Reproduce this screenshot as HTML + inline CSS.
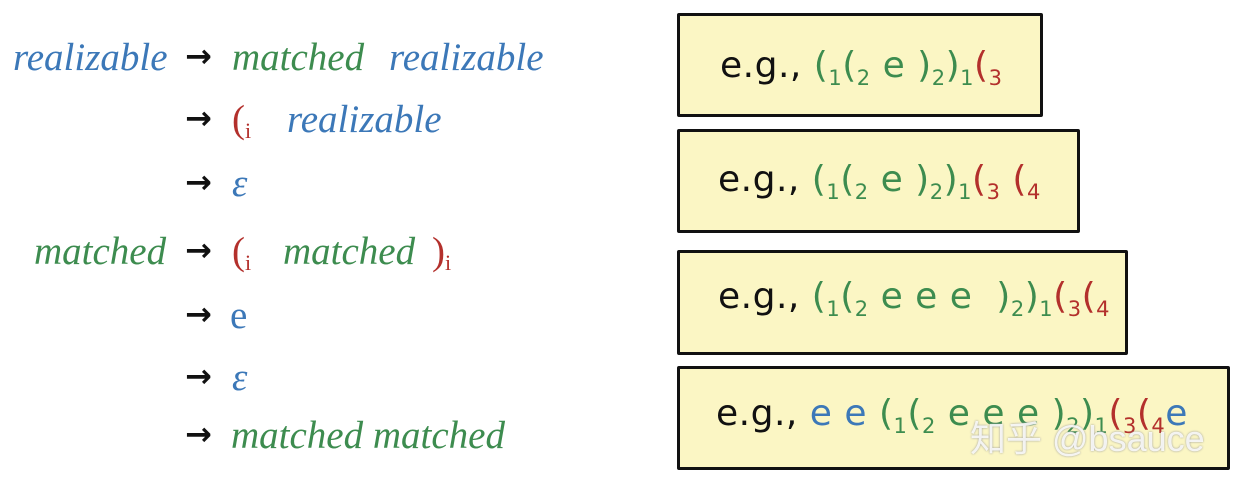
<!DOCTYPE html>
<html><head><meta charset="utf-8"><style>
body{margin:0;width:1240px;height:481px;background:#fff;position:relative;overflow:hidden;font-family:"Liberation Serif",serif}
.t{position:absolute;font-size:39px;white-space:nowrap;line-height:1}
.i{font-style:italic}
.b{color:#3c78b8}.g{color:#3d8c4f}.r{color:#b3302c}.k{color:#111}
.ar{position:absolute;font-family:"DejaVu Sans",sans-serif;font-size:32px;font-weight:bold;color:#111;line-height:1}
sub{font-size:22px;vertical-align:-6px;font-style:normal}
.box{position:absolute;background:#fbf6c4;border:3px solid #111;box-sizing:border-box;border-radius:2px}
.e{position:absolute;font-family:"DejaVu Sans",sans-serif;font-size:36px;white-space:nowrap;line-height:1;letter-spacing:0.5px}
.e sub{font-size:21px;vertical-align:-8px}
.wm{position:absolute;left:970px;top:410px;font-family:"Liberation Sans","Noto Sans CJK SC",sans-serif;font-size:36px;color:rgba(255,255,255,.85);text-shadow:0 0 2px #999}
</style></head><body>
<div class="t i b" style="left:13px;top:38px">realizable</div>
<div class="ar" style="left:185px;top:40px">→</div>
<div class="t i g" style="left:232px;top:38px">matched</div>
<div class="t i b" style="left:389px;top:38px">realizable</div>
<div class="ar" style="left:185px;top:102px">→</div>
<div class="t r" style="left:232px;top:100px">(<sub>i</sub></div>
<div class="t i b" style="left:287px;top:100px">realizable</div>
<div class="ar" style="left:185px;top:166px">→</div>
<div class="t i b" style="left:232px;top:164px">ε</div>
<div class="t i g" style="left:34px;top:232px">matched</div>
<div class="ar" style="left:185px;top:234px">→</div>
<div class="t r" style="left:232px;top:232px">(<sub>i</sub></div>
<div class="t i g" style="left:283px;top:232px">matched</div>
<div class="t r" style="left:432px;top:232px">)<sub>i</sub></div>
<div class="ar" style="left:185px;top:298px">→</div>
<div class="t b" style="left:230px;top:296px">e</div>
<div class="ar" style="left:185px;top:360px">→</div>
<div class="t i b" style="left:232px;top:358px">ε</div>
<div class="ar" style="left:185px;top:418px">→</div>
<div class="t i g" style="left:231px;top:416px">matched matched</div>

<div class="box" style="left:677px;top:13px;width:366px;height:104px"></div>
<div class="e" style="left:720px;top:48px"><span class="k">e.g.,</span> <span class="g">(<sub>1</sub>(<sub>2</sub> e )<sub>2</sub>)<sub>1</sub></span><span class="r">(<sub>3</sub></span></div>
<div class="box" style="left:677px;top:129px;width:403px;height:104px"></div>
<div class="e" style="left:718px;top:162px"><span class="k">e.g.,</span> <span class="g">(<sub>1</sub>(<sub>2</sub> e )<sub>2</sub>)<sub>1</sub></span><span class="r">(<sub>3</sub> (<sub>4</sub></span></div>
<div class="box" style="left:677px;top:250px;width:451px;height:105px"></div>
<div class="e" style="left:718px;top:279px"><span class="k">e.g.,</span> <span class="g">(<sub>1</sub>(<sub>2</sub> e e e &nbsp;)<sub>2</sub>)<sub>1</sub></span><span class="r">(<sub>3</sub>(<sub>4</sub></span></div>
<div class="box" style="left:677px;top:366px;width:553px;height:104px"></div>
<div class="e" style="left:716px;top:396px"><span class="k">e.g.,</span> <span class="b">e e</span> <span class="g">(<sub>1</sub>(<sub>2</sub> e e e )<sub>2</sub>)<sub>1</sub></span><span class="r">(<sub>3</sub>(<sub>4</sub></span><span class="b">e</span></div>
<div class="wm">知乎 @bsauce</div>
</body></html>
